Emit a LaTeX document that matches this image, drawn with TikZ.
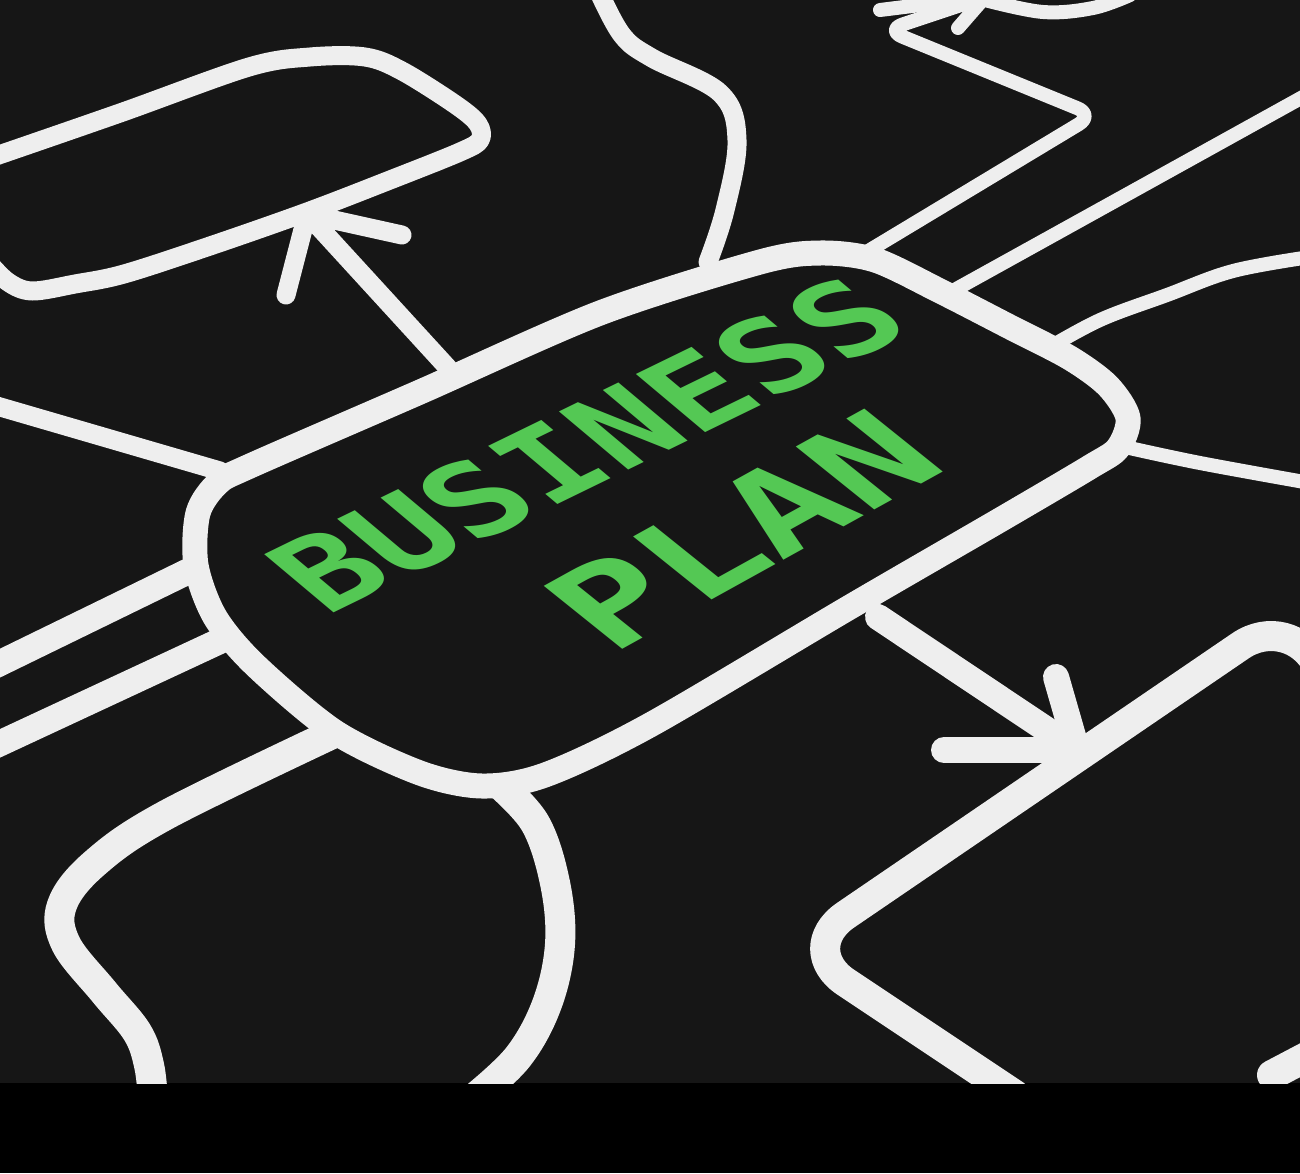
\documentclass[tikz,border=0pt]{standalone}
\usepackage{fontspec}
\newfontfamily\boardfont{DejaVu Sans Mono}
\definecolor{board}{RGB}{22,22,22}
\definecolor{chalk}{RGB}{238,238,238}
\definecolor{chalkgreen}{RGB}{84,200,84}
\tikzset{
  chalkline/.style={draw=chalk, line cap=round, line join=round},
  thin chalk/.style={chalkline, line width=14pt},
  mid chalk/.style={chalkline, line width=19pt},
  thick chalk/.style={chalkline, line width=26pt},
  heavy chalk/.style={chalkline, line width=30pt},
  greentext/.style={text=chalkgreen, transform shape, inner sep=0pt, anchor=center}
}
\begin{document}
\begin{tikzpicture}[x=1pt, y=-1pt]
\useasboundingbox (0,0) rectangle (1300,1173);
\fill[board] (0,0) rectangle (1300,1083);
\fill[black] (0,1083) rectangle (1300,1173);
\begin{scope}
\clip (0,0) rectangle (1300,1083);
% top-left box
\draw[mid chalk] plot[smooth, tension=0.55] coordinates {(-10,158) (120,113) (249,67) (310,57) (365,57) (402,71) (456,105) (478,124) (480,140) (460,152) (390,180) (307,212) (210,246) (124,274) (75,284) (32,291) (8,282) (-12,262)};
% arrow into top-left box
\coordinate (tlTip) at (307,214);
\draw[mid chalk] (448,368) -- (tlTip);
\draw[mid chalk] (tlTip) -- (286,295);
\draw[mid chalk] (tlTip) -- (402,235);
% line from left into top-left corner of the central box
\draw[mid chalk] (-10,404) -- (220,471);
% two lines from the left
\draw[thick chalk] (-10,668) -- (195,568);
\draw[thick chalk] (-10,748) -- (222,640);
% s-curve at bottom left
\draw[heavy chalk] plot[smooth, tension=0.6] coordinates {(330,735) (166,815) (95,863) (62,905) (66,944) (104,992) (137,1032) (149,1065) (153,1100)};
% loop down from the bottom
\draw[heavy chalk] plot[smooth, tension=0.6] coordinates {(497,782) (535,823) (555,883) (560,944) (547,1004) (518,1057) (472,1100)};
% arrow to the bottom-right box
\coordinate (brTip) at (1077,750);
\draw[thick chalk] (878,617) -- (brTip);
\draw[thick chalk] (brTip) -- (1056,677);
\draw[thick chalk] (brTip) -- (944,750);
% bottom-right box
\draw[heavy chalk, rounded corners=60pt] (1335,700) -- (1290,612) -- (796,949) -- (1015,1095);
\draw[heavy chalk] (1272,1075) -- (1310,1055);
% line from the top
\draw[mid chalk] plot[smooth, tension=0.6] coordinates {(598,-10) (622,35) (652,58) (720,93) (737,140) (725,210) (708,262)};
% squiggle with arrow at top right
\coordinate (topTip) at (985,-3);
\draw[thin chalk, rounded corners=18pt] (850,262) -- (1094,115) -- (886,30) -- (topTip);
\draw[thin chalk] (topTip) -- (880,10);
\draw[thin chalk] (topTip) -- (958,28);
\draw[thin chalk] plot[smooth, tension=0.6] coordinates {(985,0) (1043,12) (1093,8) (1130,-5)};
% long line to the right
\draw[thin chalk] (1310,93) -- (940,298);
% right box
\draw[thin chalk] plot[smooth, tension=0.6] coordinates {(1045,350) (1100,320) (1167,295) (1233,271) (1310,257)};
\draw[thin chalk] plot[smooth, tension=0.6] coordinates {(1125,447) (1200,463) (1310,483)};
% central box
\draw[chalkline, line width=25pt, fill=board] plot[smooth cycle, tension=0.5] coordinates {(250,466) (420,392) (600,313) (760,262) (820,253) (875,260) (940,291) (1010,327) (1070,358) (1108,386) (1128,418) (1118,448) (1090,467) (1000,520) (850,607) (650,725) (545,775) (482,786) (420,773) (335,732) (255,665) (215,617) (196,565) (198,513) (218,483)};
% text
\begin{scope}[shift={(587,444)}, cm={0.989,0.482,-0.766,0.643,(0,0)}]
\node[greentext, font=\boardfont\bfseries\fontsize{124}{124}\selectfont] (bus) at (0pt,0pt) {BUSINESS};
\end{scope}
\begin{scope}[shift={(742,530)}, cm={1.024,0.567,-0.78,0.626,(0,0)}]
\node[greentext, font=\boardfont\bfseries\fontsize{138}{138}\selectfont] (plan) at (0pt,0pt) {PLAN};
\end{scope}
\end{scope}
\end{tikzpicture}
\end{document}
